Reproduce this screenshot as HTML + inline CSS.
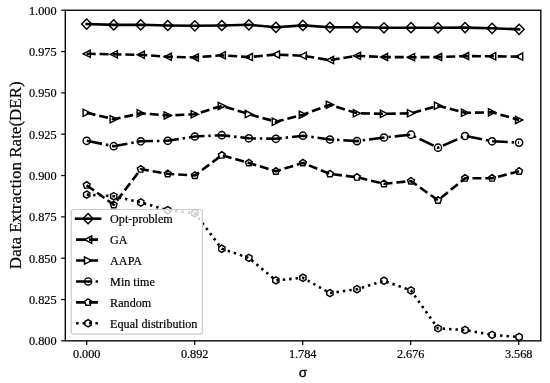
<!DOCTYPE html>
<html><head><meta charset="utf-8"><title>DER vs sigma</title>
<style>html,body{margin:0;padding:0;background:#fff}svg{display:block}</style></head>
<body>
<svg width="550" height="383" viewBox="0 0 550 383">
<rect width="550" height="383" fill="#fff"/>
<polyline points="86.70,24.10 113.73,24.90 140.75,24.80 167.78,25.50 194.80,25.80 221.82,25.50 248.85,24.80 275.88,27.30 302.90,25.40 329.93,27.30 356.95,27.30 383.98,27.80 411.00,27.70 438.03,27.80 465.05,27.60 492.08,28.30 519.10,29.30" fill="none" stroke="#000" stroke-width="2.6" stroke-linecap="square" stroke-linejoin="round"/>
<g fill="none" stroke="#000" stroke-width="1.45" stroke-linejoin="miter">
<polygon points="86.70,19.01 91.79,24.10 86.70,29.19 81.61,24.10"/>
<polygon points="113.73,19.81 118.82,24.90 113.73,29.99 108.63,24.90"/>
<polygon points="140.75,19.71 145.84,24.80 140.75,29.89 135.66,24.80"/>
<polygon points="167.78,20.41 172.87,25.50 167.78,30.59 162.68,25.50"/>
<polygon points="194.80,20.71 199.89,25.80 194.80,30.89 189.71,25.80"/>
<polygon points="221.82,20.41 226.92,25.50 221.82,30.59 216.73,25.50"/>
<polygon points="248.85,19.71 253.94,24.80 248.85,29.89 243.76,24.80"/>
<polygon points="275.88,22.21 280.97,27.30 275.88,32.39 270.78,27.30"/>
<polygon points="302.90,20.31 307.99,25.40 302.90,30.49 297.81,25.40"/>
<polygon points="329.93,22.21 335.02,27.30 329.93,32.39 324.83,27.30"/>
<polygon points="356.95,22.21 362.04,27.30 356.95,32.39 351.86,27.30"/>
<polygon points="383.98,22.71 389.07,27.80 383.98,32.89 378.88,27.80"/>
<polygon points="411.00,22.61 416.09,27.70 411.00,32.79 405.91,27.70"/>
<polygon points="438.03,22.71 443.12,27.80 438.03,32.89 432.93,27.80"/>
<polygon points="465.05,22.51 470.14,27.60 465.05,32.69 459.96,27.60"/>
<polygon points="492.08,23.21 497.17,28.30 492.08,33.39 486.98,28.30"/>
<polygon points="519.10,24.21 524.19,29.30 519.10,34.39 514.01,29.30"/>
</g>
<polyline points="86.70,53.80 113.73,54.30 140.75,54.80 167.78,56.80 194.80,57.40 221.82,55.30 248.85,57.10 275.88,54.50 302.90,55.80 329.93,60.10 356.95,55.80 383.98,57.10 411.00,57.20 438.03,57.10 465.05,56.10 492.08,56.30 519.10,56.60" fill="none" stroke="#000" stroke-width="2.6" stroke-linecap="butt" stroke-linejoin="round" stroke-dasharray="8.99 3.89"/>
<g fill="none" stroke="#000" stroke-width="1.45" stroke-linejoin="miter">
<polygon points="83.10,53.80 90.30,50.20 90.30,57.40"/>
<polygon points="110.13,54.30 117.33,50.70 117.33,57.90"/>
<polygon points="137.15,54.80 144.35,51.20 144.35,58.40"/>
<polygon points="164.18,56.80 171.38,53.20 171.38,60.40"/>
<polygon points="191.20,57.40 198.40,53.80 198.40,61.00"/>
<polygon points="218.22,55.30 225.42,51.70 225.42,58.90"/>
<polygon points="245.25,57.10 252.45,53.50 252.45,60.70"/>
<polygon points="272.27,54.50 279.48,50.90 279.48,58.10"/>
<polygon points="299.30,55.80 306.50,52.20 306.50,59.40"/>
<polygon points="326.32,60.10 333.53,56.50 333.53,63.70"/>
<polygon points="353.35,55.80 360.55,52.20 360.55,59.40"/>
<polygon points="380.38,57.10 387.58,53.50 387.58,60.70"/>
<polygon points="407.40,57.20 414.60,53.60 414.60,60.80"/>
<polygon points="434.43,57.10 441.63,53.50 441.63,60.70"/>
<polygon points="461.45,56.10 468.65,52.50 468.65,59.70"/>
<polygon points="488.48,56.30 495.68,52.70 495.68,59.90"/>
<polygon points="515.50,56.60 522.70,53.00 522.70,60.20"/>
</g>
<polyline points="86.70,112.80 113.73,119.20 140.75,113.30 167.78,115.40 194.80,114.30 221.82,105.90 248.85,114.10 275.88,121.70 302.90,114.70 329.93,104.70 356.95,113.30 383.98,113.80 411.00,113.30 438.03,105.70 465.05,112.80 492.08,112.30 519.10,119.90" fill="none" stroke="#000" stroke-width="2.6" stroke-linecap="butt" stroke-linejoin="round" stroke-dasharray="8.99 3.89"/>
<g fill="none" stroke="#000" stroke-width="1.45" stroke-linejoin="miter">
<polygon points="90.30,112.80 83.10,109.20 83.10,116.40"/>
<polygon points="117.33,119.20 110.13,115.60 110.13,122.80"/>
<polygon points="144.35,113.30 137.15,109.70 137.15,116.90"/>
<polygon points="171.38,115.40 164.18,111.80 164.18,119.00"/>
<polygon points="198.40,114.30 191.20,110.70 191.20,117.90"/>
<polygon points="225.42,105.90 218.22,102.30 218.22,109.50"/>
<polygon points="252.45,114.10 245.25,110.50 245.25,117.70"/>
<polygon points="279.48,121.70 272.27,118.10 272.27,125.30"/>
<polygon points="306.50,114.70 299.30,111.10 299.30,118.30"/>
<polygon points="333.53,104.70 326.32,101.10 326.32,108.30"/>
<polygon points="360.55,113.30 353.35,109.70 353.35,116.90"/>
<polygon points="387.58,113.80 380.38,110.20 380.38,117.40"/>
<polygon points="414.60,113.30 407.40,109.70 407.40,116.90"/>
<polygon points="441.63,105.70 434.43,102.10 434.43,109.30"/>
<polygon points="468.65,112.80 461.45,109.20 461.45,116.40"/>
<polygon points="495.68,112.30 488.48,108.70 488.48,115.90"/>
<polygon points="522.70,119.90 515.50,116.30 515.50,123.50"/>
</g>
<polyline points="86.70,140.80 113.73,146.20 140.75,141.30 167.78,140.80 194.80,136.50 221.82,135.20 248.85,138.30 275.88,138.80 302.90,135.70 329.93,139.50 356.95,141.10 383.98,137.50 411.00,134.70 438.03,147.70 465.05,136.00 492.08,141.30 519.10,142.60" fill="none" stroke="#000" stroke-width="2.6" stroke-linecap="butt" stroke-linejoin="round" stroke-dasharray="15.62 3.9 2.44 3.9"/>
<g fill="none" stroke="#000" stroke-width="1.45" stroke-linejoin="miter">
<circle cx="86.70" cy="140.80" r="3.60"/>
<circle cx="113.73" cy="146.20" r="3.60"/>
<circle cx="140.75" cy="141.30" r="3.60"/>
<circle cx="167.78" cy="140.80" r="3.60"/>
<circle cx="194.80" cy="136.50" r="3.60"/>
<circle cx="221.82" cy="135.20" r="3.60"/>
<circle cx="248.85" cy="138.30" r="3.60"/>
<circle cx="275.88" cy="138.80" r="3.60"/>
<circle cx="302.90" cy="135.70" r="3.60"/>
<circle cx="329.93" cy="139.50" r="3.60"/>
<circle cx="356.95" cy="141.10" r="3.60"/>
<circle cx="383.98" cy="137.50" r="3.60"/>
<circle cx="411.00" cy="134.70" r="3.60"/>
<circle cx="438.03" cy="147.70" r="3.60"/>
<circle cx="465.05" cy="136.00" r="3.60"/>
<circle cx="492.08" cy="141.30" r="3.60"/>
<circle cx="519.10" cy="142.60" r="3.60"/>
</g>
<polyline points="86.70,185.20 113.73,204.80 140.75,169.20 167.78,173.80 194.80,175.50 221.82,155.20 248.85,162.90 275.88,171.30 302.90,162.90 329.93,173.90 356.95,177.20 383.98,183.80 411.00,181.10 438.03,200.30 465.05,178.20 492.08,178.20 519.10,171.30" fill="none" stroke="#000" stroke-width="2.6" stroke-linecap="butt" stroke-linejoin="round" stroke-dasharray="8.99 3.89"/>
<g fill="none" stroke="#000" stroke-width="1.45" stroke-linejoin="miter">
<polygon points="86.70,181.60 90.12,184.09 88.82,188.11 84.58,188.11 83.28,184.09"/>
<polygon points="113.73,201.20 117.15,203.69 115.84,207.71 111.61,207.71 110.30,203.69"/>
<polygon points="140.75,165.60 144.17,168.09 142.87,172.11 138.63,172.11 137.33,168.09"/>
<polygon points="167.78,170.20 171.20,172.69 169.89,176.71 165.66,176.71 164.35,172.69"/>
<polygon points="194.80,171.90 198.22,174.39 196.92,178.41 192.68,178.41 191.38,174.39"/>
<polygon points="221.82,151.60 225.25,154.09 223.94,158.11 219.71,158.11 218.40,154.09"/>
<polygon points="248.85,159.30 252.27,161.79 250.97,165.81 246.73,165.81 245.43,161.79"/>
<polygon points="275.88,167.70 279.30,170.19 277.99,174.21 273.76,174.21 272.45,170.19"/>
<polygon points="302.90,159.30 306.32,161.79 305.02,165.81 300.78,165.81 299.48,161.79"/>
<polygon points="329.93,170.30 333.35,172.79 332.04,176.81 327.81,176.81 326.50,172.79"/>
<polygon points="356.95,173.60 360.37,176.09 359.07,180.11 354.83,180.11 353.53,176.09"/>
<polygon points="383.98,180.20 387.40,182.69 386.09,186.71 381.86,186.71 380.55,182.69"/>
<polygon points="411.00,177.50 414.42,179.99 413.12,184.01 408.88,184.01 407.58,179.99"/>
<polygon points="438.03,196.70 441.45,199.19 440.14,203.21 435.91,203.21 434.60,199.19"/>
<polygon points="465.05,174.60 468.47,177.09 467.17,181.11 462.93,181.11 461.63,177.09"/>
<polygon points="492.08,174.60 495.50,177.09 494.19,181.11 489.96,181.11 488.65,177.09"/>
<polygon points="519.10,167.70 522.52,170.19 521.22,174.21 516.98,174.21 515.68,170.19"/>
</g>
<polyline points="86.70,194.60 113.73,196.20 140.75,202.50 167.78,210.20 194.80,213.20 221.82,248.80 248.85,257.90 275.88,280.40 302.90,277.80 329.93,293.10 356.95,289.20 383.98,280.80 411.00,290.50 438.03,328.40 465.05,330.00 492.08,334.90 519.10,337.00" fill="none" stroke="#000" stroke-width="2.6" stroke-linecap="butt" stroke-linejoin="round" stroke-dasharray="2.43 4.01"/>
<g fill="none" stroke="#000" stroke-width="1.45" stroke-linejoin="miter">
<polygon points="86.70,191.00 89.82,192.80 89.82,196.40 86.70,198.20 83.58,196.40 83.58,192.80"/>
<polygon points="113.73,192.60 116.84,194.40 116.84,198.00 113.73,199.80 110.61,198.00 110.61,194.40"/>
<polygon points="140.75,198.90 143.87,200.70 143.87,204.30 140.75,206.10 137.63,204.30 137.63,200.70"/>
<polygon points="167.78,206.60 170.89,208.40 170.89,212.00 167.78,213.80 164.66,212.00 164.66,208.40"/>
<polygon points="194.80,209.60 197.92,211.40 197.92,215.00 194.80,216.80 191.68,215.00 191.68,211.40"/>
<polygon points="221.82,245.20 224.94,247.00 224.94,250.60 221.82,252.40 218.71,250.60 218.71,247.00"/>
<polygon points="248.85,254.30 251.97,256.10 251.97,259.70 248.85,261.50 245.73,259.70 245.73,256.10"/>
<polygon points="275.88,276.80 278.99,278.60 278.99,282.20 275.88,284.00 272.76,282.20 272.76,278.60"/>
<polygon points="302.90,274.20 306.02,276.00 306.02,279.60 302.90,281.40 299.78,279.60 299.78,276.00"/>
<polygon points="329.93,289.50 333.04,291.30 333.04,294.90 329.93,296.70 326.81,294.90 326.81,291.30"/>
<polygon points="356.95,285.60 360.07,287.40 360.07,291.00 356.95,292.80 353.83,291.00 353.83,287.40"/>
<polygon points="383.98,277.20 387.09,279.00 387.09,282.60 383.98,284.40 380.86,282.60 380.86,279.00"/>
<polygon points="411.00,286.90 414.12,288.70 414.12,292.30 411.00,294.10 407.88,292.30 407.88,288.70"/>
<polygon points="438.03,324.80 441.14,326.60 441.14,330.20 438.03,332.00 434.91,330.20 434.91,326.60"/>
<polygon points="465.05,326.40 468.17,328.20 468.17,331.80 465.05,333.60 461.93,331.80 461.93,328.20"/>
<polygon points="492.08,331.30 495.19,333.10 495.19,336.70 492.08,338.50 488.96,336.70 488.96,333.10"/>
<polygon points="519.10,333.40 522.22,335.20 522.22,338.80 519.10,340.60 515.98,338.80 515.98,335.20"/>
</g>
<rect x="65.3" y="10.25" width="475.50" height="330.60" fill="none" stroke="#000" stroke-width="1.35"/>
<g stroke="#000" stroke-width="1.2">
<line x1="61.10" y1="10.25" x2="65.3" y2="10.25"/>
<line x1="61.10" y1="51.58" x2="65.3" y2="51.58"/>
<line x1="61.10" y1="92.90" x2="65.3" y2="92.90"/>
<line x1="61.10" y1="134.23" x2="65.3" y2="134.23"/>
<line x1="61.10" y1="175.55" x2="65.3" y2="175.55"/>
<line x1="61.10" y1="216.88" x2="65.3" y2="216.88"/>
<line x1="61.10" y1="258.20" x2="65.3" y2="258.20"/>
<line x1="61.10" y1="299.53" x2="65.3" y2="299.53"/>
<line x1="61.10" y1="340.85" x2="65.3" y2="340.85"/>
<line x1="86.70" y1="340.85" x2="86.70" y2="345.05"/>
<line x1="194.70" y1="340.85" x2="194.70" y2="345.05"/>
<line x1="302.70" y1="340.85" x2="302.70" y2="345.05"/>
<line x1="410.70" y1="340.85" x2="410.70" y2="345.05"/>
<line x1="518.70" y1="340.85" x2="518.70" y2="345.05"/>
</g>
<g font-family="'Liberation Serif', serif" font-size="12.3" fill="#000" stroke="#000" stroke-width="0.2">
<text transform="translate(56.60,14.75) scale(1,1.03)" text-anchor="end">1.000</text>
<text transform="translate(56.60,56.08) scale(1,1.03)" text-anchor="end">0.975</text>
<text transform="translate(56.60,97.40) scale(1,1.03)" text-anchor="end">0.950</text>
<text transform="translate(56.60,138.73) scale(1,1.03)" text-anchor="end">0.925</text>
<text transform="translate(56.60,180.05) scale(1,1.03)" text-anchor="end">0.900</text>
<text transform="translate(56.60,221.38) scale(1,1.03)" text-anchor="end">0.875</text>
<text transform="translate(56.60,262.70) scale(1,1.03)" text-anchor="end">0.850</text>
<text transform="translate(56.60,304.03) scale(1,1.03)" text-anchor="end">0.825</text>
<text transform="translate(56.60,345.35) scale(1,1.03)" text-anchor="end">0.800</text>
<text transform="translate(86.70,358.0) scale(1,1.03)" text-anchor="middle">0.000</text>
<text transform="translate(194.70,358.0) scale(1,1.03)" text-anchor="middle">0.892</text>
<text transform="translate(302.70,358.0) scale(1,1.03)" text-anchor="middle">1.784</text>
<text transform="translate(410.70,358.0) scale(1,1.03)" text-anchor="middle">2.676</text>
<text transform="translate(518.70,358.0) scale(1,1.03)" text-anchor="middle">3.568</text>
</g>
<text transform="translate(20.9,175.20) rotate(-90)" text-anchor="middle" font-family="'Liberation Serif', serif" font-size="17" fill="#000" stroke="#000" stroke-width="0.2">Data Extraction Rate(DER)</text>
<text x="303.05" y="377.2" text-anchor="middle" font-family="'Liberation Sans', sans-serif" font-size="13.6" fill="#000" stroke="#000" stroke-width="0.3">σ</text>
<rect x="71.3" y="209.5" width="131.05" height="124.7" rx="2.4" ry="2.4" fill="#fff" fill-opacity="0.8" stroke="#ccc" stroke-width="1.2"/>
<line x1="76.10" y1="218.70" x2="100.10" y2="218.70" stroke="#000" stroke-width="2.6" stroke-linecap="square"/>
<g fill="none" stroke="#000" stroke-width="1.45" stroke-linejoin="miter"><polygon points="88.10,213.61 93.19,218.70 88.10,223.79 83.01,218.70"/></g>
<text x="110.10" y="223.20" font-family="'Liberation Serif', serif" font-size="12.15" fill="#000" stroke="#000" stroke-width="0.2">Opt-problem</text>
<line x1="76.10" y1="239.62" x2="100.10" y2="239.62" stroke="#000" stroke-width="2.6" stroke-linecap="butt" stroke-dasharray="8.99 3.89"/>
<g fill="none" stroke="#000" stroke-width="1.45" stroke-linejoin="miter"><polygon points="84.50,239.62 91.70,236.02 91.70,243.22"/></g>
<text x="110.10" y="244.12" font-family="'Liberation Serif', serif" font-size="12.15" fill="#000" stroke="#000" stroke-width="0.2">GA</text>
<line x1="76.10" y1="260.54" x2="100.10" y2="260.54" stroke="#000" stroke-width="2.6" stroke-linecap="butt" stroke-dasharray="8.99 3.89"/>
<g fill="none" stroke="#000" stroke-width="1.45" stroke-linejoin="miter"><polygon points="91.70,260.54 84.50,256.94 84.50,264.14"/></g>
<text x="110.10" y="265.04" font-family="'Liberation Serif', serif" font-size="12.15" fill="#000" stroke="#000" stroke-width="0.2">AAPA</text>
<line x1="76.10" y1="281.46" x2="100.10" y2="281.46" stroke="#000" stroke-width="2.6" stroke-linecap="butt" stroke-dasharray="15.62 3.9 2.44 3.9"/>
<g fill="none" stroke="#000" stroke-width="1.45" stroke-linejoin="miter"><circle cx="88.10" cy="281.46" r="3.60"/></g>
<text x="110.10" y="285.96" font-family="'Liberation Serif', serif" font-size="12.15" fill="#000" stroke="#000" stroke-width="0.2">Min time</text>
<line x1="76.10" y1="302.38" x2="100.10" y2="302.38" stroke="#000" stroke-width="2.6" stroke-linecap="butt" stroke-dasharray="8.99 3.89"/>
<g fill="none" stroke="#000" stroke-width="1.45" stroke-linejoin="miter"><polygon points="88.10,298.78 91.52,301.27 90.22,305.29 85.98,305.29 84.68,301.27"/></g>
<text x="110.10" y="306.88" font-family="'Liberation Serif', serif" font-size="12.15" fill="#000" stroke="#000" stroke-width="0.2">Random</text>
<line x1="76.10" y1="323.30" x2="100.10" y2="323.30" stroke="#000" stroke-width="2.6" stroke-linecap="butt" stroke-dasharray="2.43 4.01"/>
<g fill="none" stroke="#000" stroke-width="1.45" stroke-linejoin="miter"><polygon points="88.10,319.70 91.22,321.50 91.22,325.10 88.10,326.90 84.98,325.10 84.98,321.50"/></g>
<text x="110.10" y="327.80" font-family="'Liberation Serif', serif" font-size="12.15" fill="#000" stroke="#000" stroke-width="0.2">Equal distribution</text>
</svg>
</body></html>
